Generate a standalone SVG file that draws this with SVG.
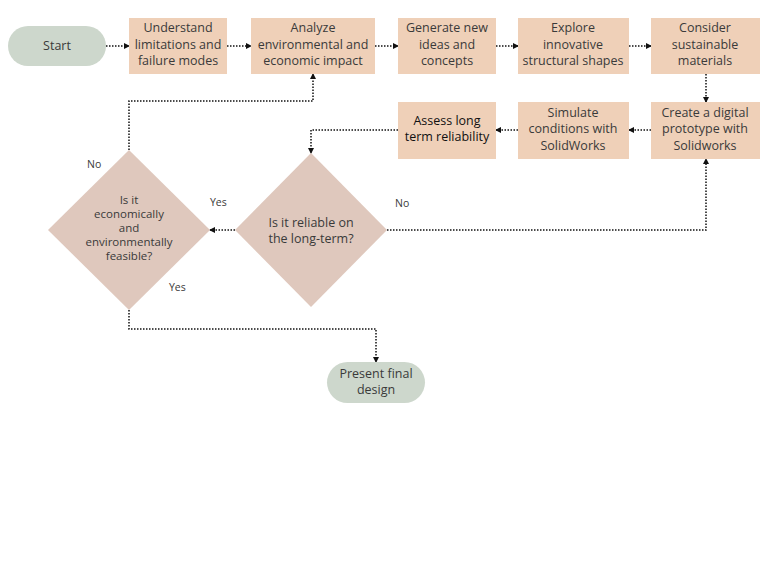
<svg xmlns="http://www.w3.org/2000/svg" width="768" height="576" viewBox="0 0 768 576">
<defs>
<style>
.t{font-family:"Open Sans","Noto Sans",sans-serif;font-size:12.5px;fill:#3a3a3a;text-anchor:middle}
.s{font-size:11.5px}
.l{font-family:"Open Sans","Noto Sans",sans-serif;font-size:10.5px;fill:#3a3a3a}
.box{fill:#efd0b8}
.pill{fill:#cdd7cc}
.dia{fill:#dfc8bd}
.c{fill:none;stroke:#111;stroke-width:1.5;stroke-dasharray:1.5 1.5;marker-end:url(#a)}
</style>
<marker id="a" viewBox="0 0 6 6" refX="5" refY="3" markerWidth="6" markerHeight="6" markerUnits="userSpaceOnUse" orient="auto"><path d="M0,0L6,3L0,6z" fill="#111"/></marker>
</defs>
<rect width="768" height="576" fill="#fff"/>
<g id="connectors">
<path class="c" d="M106,46H129"/>
<path class="c" d="M227,46H251"/>
<path class="c" d="M375,46H398"/>
<path class="c" d="M496,46H518"/>
<path class="c" d="M629,46H651"/>
<path class="c" d="M706,74V102"/>
<path class="c" d="M651,130H629"/>
<path class="c" d="M518,130H496"/>
<path class="c" d="M398,130H311V153"/>
<path class="c" d="M387,230H706V159"/>
<path class="c" d="M235,230H210"/>
<path class="c" d="M129,150V101H313V74"/>
<path class="c" d="M129,310V329H376V362"/>
</g>
<g id="start"><rect class="pill" x="8" y="26" width="98" height="40" rx="20"/><text class="t" x="57" y="50">Start</text></g>
<g id="n1"><rect class="box" x="129" y="18" width="98" height="56"/><text class="t" x="178" y="32">Understand</text><text class="t" x="178" y="49">limitations and</text><text class="t" x="178" y="65">failure modes</text></g>
<g id="n2"><rect class="box" x="251" y="18" width="124" height="56"/><text class="t" x="313" y="32">Analyze</text><text class="t" x="313" y="49">environmental and</text><text class="t" x="313" y="65">economic impact</text></g>
<g id="n3"><rect class="box" x="398" y="18" width="98" height="56"/><text class="t" x="447" y="32">Generate new</text><text class="t" x="447" y="49">ideas and</text><text class="t" x="447" y="65">concepts</text></g>
<g id="n4"><rect class="box" x="518" y="18" width="111" height="56"/><text class="t" x="573" y="32">Explore</text><text class="t" x="573" y="49">innovative</text><text class="t" x="573" y="65">structural shapes</text></g>
<g id="n5"><rect class="box" x="651" y="18" width="109" height="56"/><text class="t" x="705" y="32">Consider</text><text class="t" x="705" y="49">sustainable</text><text class="t" x="705" y="65">materials</text></g>
<g id="n6"><rect class="box" x="651" y="102" width="109" height="57"/><text class="t" x="705" y="117">Create a digital</text><text class="t" x="705" y="133">prototype with</text><text class="t" x="705" y="150">Solidworks</text></g>
<g id="n7"><rect class="box" x="518" y="102" width="111" height="57"/><text class="t" x="573" y="117">Simulate</text><text class="t" x="573" y="133">conditions with</text><text class="t" x="573" y="150">SolidWorks</text></g>
<g id="n8"><rect class="box" x="398" y="102" width="98" height="57"/><text class="t" x="447" y="125" style="fill:#111">Assess long</text><text class="t" x="447" y="141" style="fill:#111">term reliability</text></g>
<g id="d2"><path class="dia" d="M311,153L387,230L311,307L235,230Z"/><text class="t" x="311" y="227">Is it reliable on</text><text class="t" x="311" y="243">the long-term?</text></g>
<g id="d1"><path class="dia" d="M129,150L210,230L129,310L48,230Z"/><text class="t s" x="129" y="204">Is it</text><text class="t s" x="129" y="218">economically</text><text class="t s" x="129" y="232">and</text><text class="t s" x="129" y="246">environmentally</text><text class="t s" x="129" y="260">feasible?</text></g>
<g id="end"><rect class="pill" x="327" y="362" width="98" height="41" rx="20.5"/><text class="t" x="376" y="378">Present final</text><text class="t" x="376" y="394">design</text></g>
<g id="labels"><text class="l" x="395" y="207">No</text><text class="l" x="210" y="206">Yes</text><text class="l" x="87" y="168">No</text><text class="l" x="169" y="291">Yes</text></g>
</svg>
